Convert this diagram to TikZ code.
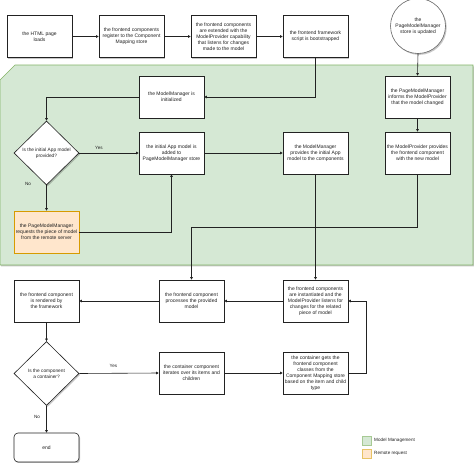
\documentclass[tikz,border=0pt]{standalone}
\usepackage{fontspec}
\setmainfont{Liberation Sans}
\usetikzlibrary{shapes.geometric,arrows.meta,shadows}
\definecolor{mgfill}{HTML}{D5E8D4}
\definecolor{mgdraw}{HTML}{82B366}
\definecolor{rqfill}{HTML}{FFE6CC}
\definecolor{rqdraw}{HTML}{D79B00}
\definecolor{ink}{HTML}{222222}
\tikzset{
  shd/.style={drop shadow={shadow xshift=1.2pt, shadow yshift=-1.4pt, fill=black, opacity=0.22}},
  box/.style={draw=ink, line width=0.6pt, fill=white, shd, minimum width=65pt, minimum height=42pt,
    inner sep=0pt, align=center, font=\fontsize{5}{6}\selectfont, text=ink},
  decision/.style={diamond, draw=ink, line width=0.6pt, fill=white, shd, minimum width=65pt,
    minimum height=64pt, inner sep=0pt},
  txt/.style={align=center, font=\fontsize{4.8}{6}\selectfont, text=ink, inner sep=0pt},
  lab/.style={font=\fontsize{4.6}{5.5}\selectfont, text=ink, inner sep=0pt},
  arr/.style={draw=ink, line width=0.6pt, -{Triangle[length=2.6pt,width=2.6pt]}},
}
\begin{document}
\begin{tikzpicture}[x=1pt,y=-1pt]
\useasboundingbox (0,0) rectangle (474,463);
% model management area
\path[fill=mgfill, draw=mgdraw, line width=0.6pt, shd]
  (0,80) -- (15,65) -- (473,65) -- (473,265) -- (0,265) -- cycle;

% top row
\node[box] (b1) at (39.5,36.5) {the HTML page\\loads};
\node[box] (b2) at (131.5,36.5) {the frontend components\\register to the Component\\Mapping store};
\node[box] (b3) at (223.5,36.5) {the frontend components\\are extended with the\\ModelProvider capability\\that listens for changes\\made to the model};
\node[box] (b4) at (315.5,36.5) {the frontend framework\\script is bootstrapped};
\node[circle, draw=black!60, line width=0.6pt, fill=white, shd, minimum size=55pt, inner sep=0pt,
  align=center, font=\fontsize{5}{6}\selectfont, text=ink] (circ) at (418,26)
  {the\\PageModelManager\\store is updated};

% green area
\node[box] (mmInit) at (171.5,97) {the ModelManager is\\initialized};
\node[box] (pmmInf) at (417.5,97) {the PageModelManager\\informs the ModelProvider\\that the model changed};
\node[decision] (d1) at (46.5,153) {};
\node[txt] (d1t) at (d1) {Is the initial App model\\provided?};
\node[box] (appAdd) at (171.5,153) {the initial App model is\\added to\\PageModelManager store};
\node[box] (mmProv) at (315.5,153) {the ModelManager\\provides the initial App\\model to the components};
\node[box] (mpProv) at (417.5,153) {the ModelProvider provides\\the frontend component\\with the new model};
\node[box, fill=rqfill, draw=rqdraw] (remote) at (46.5,232) {the PageModelManager\\requests the piece of model\\from the remote server};

% lower part
\node[box] (render) at (46.5,301) {the frontend component\\is rendered by\\the framework};
\node[box] (proc) at (191.5,301) {the frontend component\\processes the provided\\model};
\node[box] (inst) at (315.5,301) {the frontend components\\are instantiated and the\\ModelProvider listens for\\changes for the related\\piece of model};
\node[decision] (d2) at (46.5,373.5) {};
\node[txt] (d2t) at (d2) {Is the component\\a container?};
\node[box] (iter) at (191.5,373) {the container component\\iterates over its items and\\children};
\node[box] (gets) at (315.5,373) {the container gets the\\frontend component\\classes from the\\Component Mapping store\\based on the item and child\\type};
\node[box, minimum height=29pt, rounded corners=4pt] (end) at (46.5,447.5) {end};

% connectors
\draw[arr] (b1.east) -- (b2.west);
\draw[arr] (b2.east) -- (b3.west);
\draw[arr] (b3.east) -- (b4.west);
\draw[arr] (b4.south) |- (mmInit.east);
\draw[arr] (circ.south) -- (pmmInf.north);
\draw[arr] (pmmInf.south) -- (mpProv.north);
\draw[arr] (mmInit.west) -| (d1.north);
\draw[arr] (d1.east) -- (appAdd.west);
\node[lab] (yes1) at (99,148) {Yes};
\draw[arr] (d1.south) -- (remote.north);
\node[lab] (no1) at (28,184) {No};
\draw[arr] (remote.east) -| (appAdd.south);
\draw[arr] (appAdd.east) -- (mmProv.west);
\draw[arr] (mpProv.south) -- ++(0,53) -| (proc.north);
\draw[arr] (mmProv.south) -- (inst.north);
\draw[arr] (inst.west) -- (proc.east);
\draw[arr] (proc.west) -- (render.east);
\draw[arr] (render.south) -- (d2.north);
\draw[arr] (d2.east) -- (iter.west);
\node[lab] (yes2) at (113.5,366) {Yes};
\draw[arr] (iter.east) -- (gets.west);
\draw[arr] (gets.east) -- ++(17.5,0) |- (inst.east);
\draw[arr] (d2.south) -- (end.north);
\node[lab] (no2) at (37,417) {No};

% legend
\node[draw=mgdraw!70, fill=mgfill, minimum size=9pt, inner sep=0pt] (lg1) at (366.5,440.5) {};
\node[lab, anchor=west] (lg1t) at (374,440.5) {Model Management};
\node[draw=rqdraw!60, fill=rqfill, minimum size=9pt, inner sep=0pt] (lg2) at (366.5,453.5) {};
\node[lab, anchor=west] (lg2t) at (374,453.5) {Remote request};
\end{tikzpicture}
\end{document}
